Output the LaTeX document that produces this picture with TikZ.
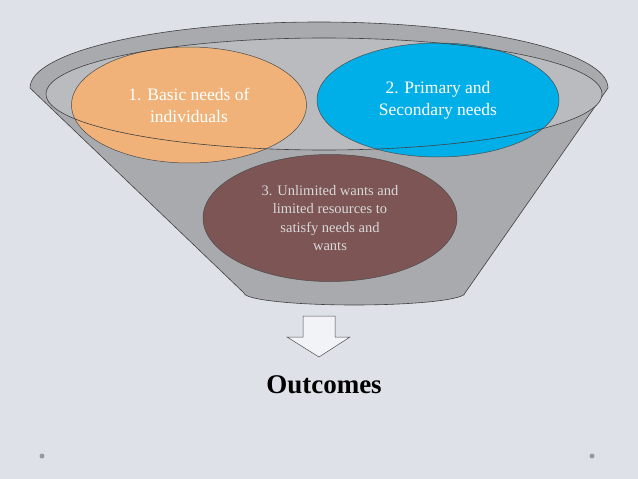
\documentclass[tikz,border=0pt]{standalone}
\usepackage{fontspec}
\setmainfont{Liberation Serif}
\begin{document}
\begin{tikzpicture}[x=1pt,y=-1pt,
  bub/.style={ellipse,draw=black!70,line width=0.5pt,inner sep=0pt,align=center,text=white,font=\fontsize{17.5}{22}\selectfont},
  dot/.style={circle,fill=gray!80,inner sep=0pt,minimum size=5pt}]
\usetikzlibrary{shapes.geometric}
\definecolor{bg}{RGB}{222,226,232}
\definecolor{fun}{RGB}{168,170,174}
\definecolor{fun2}{RGB}{185,187,191}
\definecolor{org}{RGB}{240,178,120}
\definecolor{blu}{RGB}{0,174,232}
\definecolor{brn}{RGB}{125,85,85}
\fill[bg] (0,0) rectangle (638,479);
\useasboundingbox (0,0) rectangle (638,479);
\draw[fill=fun,draw=black!75,line width=0.6pt] (30,88) -- (244,293) arc[start angle=180,end angle=0,x radius=110.5,y radius=12] -- (608,88) arc[start angle=0,end angle=-180,x radius=289,y radius=66] -- cycle;
\fill[fun2] (324,94) ellipse[x radius=278,y radius=56];
\node[bub,fill=org,minimum width=235pt,minimum height=116pt] (a) at (189,105) {1. Basic needs of\\individuals};
\node[bub,fill=blu,minimum width=242pt,minimum height=114pt] (b) at (438,100) {2. Primary and\\Secondary needs};
\draw[black!75,line width=0.6pt] (324,94) ellipse[x radius=278,y radius=56];
\node[bub,fill=brn,minimum width=254pt,minimum height=127pt,text=black!15,font=\fontsize{14.5}{18.5}\selectfont] (c) at (330,218) {3. Unlimited wants and\\limited resources to\\satisfy needs and\\wants};
\draw[fill=white!60!bg,draw=black!70,line width=0.5pt] (303,316) -- (335,316) -- (335,337) -- (350,337) -- (319,357) -- (287,337) -- (303,337) -- cycle;
\node[font=\bfseries\fontsize{27}{30}\selectfont] (o) at (324,385) {Outcomes};
\node[dot] (d1) at (42,456) {};
\node[dot] (d2) at (592,456) {};
\end{tikzpicture}
\end{document}
